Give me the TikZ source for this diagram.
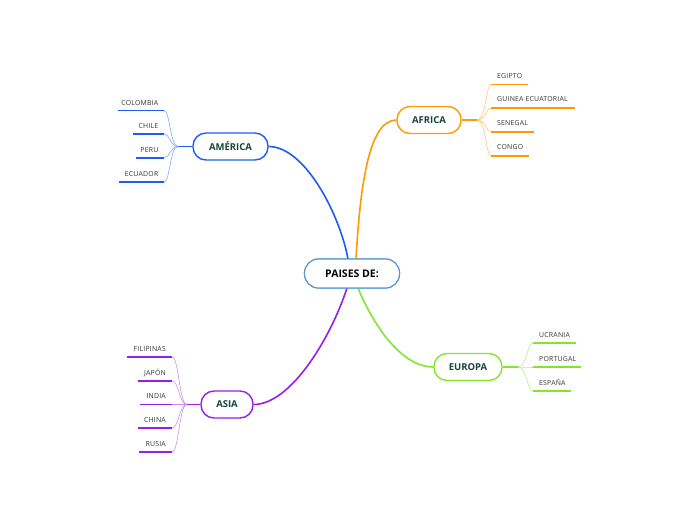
\documentclass[tikz,border=0pt]{standalone}
\usepackage{fontspec}
\setmainfont{Open Sans}
\newfontfamily\leaffont[LetterSpace=3]{Open Sans}
\definecolor{cblue}{HTML}{1F5BF5}
\definecolor{corange}{HTML}{FF9A05}
\definecolor{cgreen}{HTML}{82E62E}
\definecolor{cpurple}{HTML}{9B1EE6}
\definecolor{ccenter}{HTML}{5B9BD5}
\definecolor{ctext}{HTML}{17463A}
\definecolor{cleaf}{HTML}{333333}
\begin{document}
\begin{tikzpicture}[x=1pt,y=-1pt,
  mainbox/.style={draw, line width=1.4pt, fill=white, rounded corners=13pt, minimum height=27pt, inner sep=0pt, text=ctext, font=\bfseries\fontsize{9.5}{11}\selectfont},
  centerbox/.style={draw=ccenter, line width=1.2pt, fill=white, rounded corners=14pt, minimum height=29pt, minimum width=95pt, inner sep=0pt, font=\bfseries\fontsize{10.5}{12}\selectfont},
  branch/.style={line width=1.6pt},
  twig/.style={line width=0.6pt},
  uline/.style={line width=1.6pt},
  leafL/.style={anchor=base east, inner sep=0pt, text=cleaf, font=\leaffont\fontsize{6.9}{8}\selectfont},
  leafR/.style={anchor=base west, inner sep=0pt, text=cleaf, font=\leaffont\fontsize{6.9}{8}\selectfont}]
\useasboundingbox (0,0) rectangle (697,520);

% central node
\node[centerbox] (c) at (352,273.5) {PAISES DE:};

% main nodes
\node[mainbox, draw=cblue, minimum width=75pt] (am) at (230.5,146.5) {AMÉRICA};
\node[mainbox, draw=corange, minimum width=64pt] (af) at (429,120) {AFRICA};
\node[mainbox, draw=cgreen, minimum width=68pt] (eu) at (468,367) {EUROPA};
\node[mainbox, draw=cpurple, minimum width=52pt] (as) at (227,404.5) {ASIA};

% main branches
\coordinate (c1) at (348,259);
\coordinate (c2) at (356,259);
\coordinate (c3) at (358,288);
\coordinate (c4) at (347,288);
\draw[branch, cblue] (c1) .. controls (340,215) and (305,146.5) .. (am.east);
\draw[branch, corange] (c2) .. controls (360,190) and (368,120) .. (af.west);
\draw[branch, cgreen] (c3) .. controls (372,322) and (400,367) .. (eu.west);
\draw[branch, cpurple] (c4) .. controls (330,340) and (290,404.5) .. (as.east);
\node[centerbox] (c') at (c) {PAISES DE:};

% ---- AMERICA leaves
\coordinate (jam) at (178,146.5);
\draw[branch, cblue] (am.west) -- (jam);
\foreach \y/\x/\t in {110.5/118/COLOMBIA, 134/133/CHILE, 158/136/PERU, 182/119/ECUADOR}{
  \coordinate (a1) at (164,\y);
  \coordinate (a2) at (\x,\y);
  \draw[uline, cblue] (a1) -- (a2);
  \draw[twig, cblue!55] (jam) .. controls (170,146.5) and (170,\y) .. (a1);
  \node[leafL] at (158.5,\y-5.5) {\t};
}

% ---- AFRICA leaves
\coordinate (jaf) at (477,120);
\draw[branch, corange] (af.east) -- (jaf);
\foreach \y/\x/\t in {84.5/528/EGIPTO, 108/575/GUINEA ECUATORIAL, 132/534/SENEGAL, 156/529/CONGO}{
  \coordinate (b1) at (491,\y);
  \coordinate (b2) at (\x,\y);
  \draw[uline, corange] (b1) -- (b2);
  \draw[twig, corange!55] (jaf) .. controls (486,120) and (486,\y) .. (b1);
  \node[leafR] at (497,\y-6.5) {\t};
}

% ---- EUROPA leaves
\coordinate (jeu) at (518,367);
\draw[branch, cgreen] (eu.east) -- (jeu);
\foreach \y/\x/\t in {343/576/UCRANIA, 367/581/PORTUGAL, 391/571/ESPAÑA}{
  \coordinate (d1) at (533,\y);
  \coordinate (d2) at (\x,\y);
  \draw[uline, cgreen] (d1) -- (d2);
  \draw[twig, cgreen!60] (jeu) .. controls (527,367) and (527,\y) .. (d1);
  \node[leafR] at (539,\y-6) {\t};
}

% ---- ASIA leaves
\coordinate (jas) at (187,404.5);
\draw[branch, cpurple] (as.west) -- (jas);
\foreach \y/\x/\t in {357/127/FILIPINAS, 381/138/JAPÓN, 404.5/140/INDIA, 428/138/CHINA, 452/139/RUSIA}{
  \coordinate (e1) at (172,\y);
  \coordinate (e2) at (\x,\y);
  \draw[uline, cpurple] (e1) -- (e2);
  \draw[twig, cpurple!50] (jas) .. controls (179,404.5) and (179,\y) .. (e1);
  \node[leafL] at (166,\y-6) {\t};
}
\end{tikzpicture}
\end{document}
